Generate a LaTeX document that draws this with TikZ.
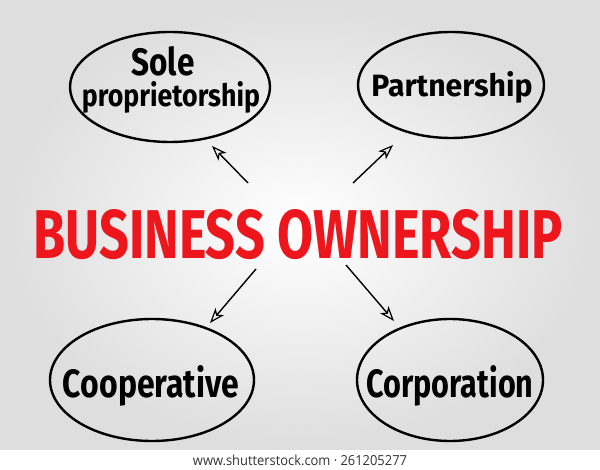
\documentclass[tikz,border=0pt]{standalone}
\usepackage{fontspec}
\setmainfont{Fira Sans}
\newfontfamily\footfont{Open Sans}
\usetikzlibrary{shapes.geometric,arrows.meta}
\definecolor{titlered}{RGB}{236,22,28}
\newcommand{\fitbox}[3]{\resizebox{#1pt}{#2pt}{#3}}
\begin{document}
\begin{tikzpicture}[x=1pt,y=-1pt,
  bubble/.style={ellipse, draw=black, line width=2.4pt, inner sep=0pt},
  pointer/.style={line width=1.4pt, -{Stealth[open,length=15pt,width=11pt,inset=4pt,line width=1.2pt]}},
  handtext/.style={inner sep=0pt, anchor=base, font=\bfseries}]
\useasboundingbox (0,0) rectangle (600,470);
\fill[white] (0,0) rectangle (600,470);
\shade[inner color=white, outer color=black!13] (0,0) rectangle (600,449);

% bubbles
\node[bubble, minimum width=200, minimum height=110] (sole) at (170,87) {};
\node[bubble, minimum width=186, minimum height=106] (part) at (451,85) {};
\node[bubble, minimum width=204, minimum height=122] (coop) at (152,380) {};
\node[bubble, minimum width=186, minimum height=122] (corp) at (450,380) {};

% bubble texts
\node[handtext] (soleA) at (163,76) {\fitbox{63}{29}{Sole}};
\node[handtext] (soleB) at (171,107) {\fitbox{178}{25}{proprietorship}};
\node[handtext] (partT) at (452,97) {\fitbox{161}{25}{Partnership}};
\node[handtext] (coopT) at (151,398) {\fitbox{176}{32}{Cooperative}};
\node[handtext] (corpT) at (450,398) {\fitbox{167}{32}{Corporation}};

% title
\node[handtext, text=titlered] (title) at (298,259) {\fitbox{529}{49}{BUSINESS OWNERSHIP}};

% arrows
\coordinate (a1s) at (248,183); \coordinate (a1e) at (212,146);
\coordinate (a2s) at (353,183); \coordinate (a2e) at (393,145);
\coordinate (a3s) at (256,269); \coordinate (a3e) at (210,323);
\coordinate (a4s) at (346,265); \coordinate (a4e) at (394,321);
\draw[pointer] (a1s) -- (a1e);
\draw[pointer] (a2s) -- (a2e);
\draw[pointer] (a3s) -- (a3e);
\draw[pointer] (a4s) -- (a4e);

% footer
\node[inner sep=0pt, anchor=base, text=black!80] (foot) at (300,465) {\footfont\fitbox{214}{10.5}{www.shutterstock.com · 261205277}};
\end{tikzpicture}
\end{document}
